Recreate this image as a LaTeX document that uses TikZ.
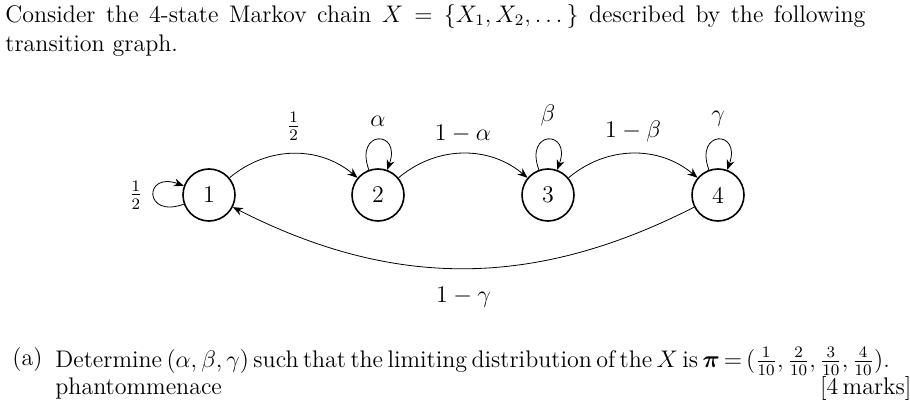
\documentclass[tikz,border=0pt]{standalone}
\usepackage{amsmath,amssymb,bm}
\usetikzlibrary{arrows.meta}
\begin{document}
\begin{tikzpicture}[x=0.5pt,y=-0.5pt,font=\fontsize{12}{14.5}\selectfont,
  st/.style={circle,draw,thick,minimum size=26pt,inner sep=0pt},
  arr/.style={->,>={Stealth[length=5pt,width=4pt]},thin}]
\useasboundingbox (0,0) rectangle (910,417);
\node[anchor=north west,text width=430pt,align=justify,inner sep=0pt] (txt) at (5,4)
 {Consider the 4-state Markov chain $X=\{X_1,X_2,\dots\}$ described by the following transition graph.};
\node[st] (s1) at (209,195) {1};
\node[st] (s2) at (378,195) {2};
\node[st] (s3) at (548,195) {3};
\node[st] (s4) at (718,195) {4};
\draw[arr] (s1) to[bend left=40] node[above=3pt,pos=0.5] {$\frac12$} (s2);
\draw[arr] (s2) to[bend left=40] node[above=2pt] {$1-\alpha$} (s3);
\draw[arr] (s3) to[bend left=40] node[above=2pt] {$1-\beta$} (s4);
\draw[arr] (s4) to[bend left=27] node[below=6pt] {$1-\gamma$} (s1);
\draw[arr] (s2) to[out=110,in=70,looseness=6] node[above=3pt] {$\alpha$} (s2);
\draw[arr] (s3) to[out=110,in=70,looseness=6] node[above=3pt] {$\beta$} (s3);
\draw[arr] (s4) to[out=110,in=70,looseness=6] node[above=3pt] {$\gamma$} (s4);
\draw[arr] (s1) to[out=200,in=160,looseness=6] node[left=2pt] {$\frac12$} (s1);
\node[anchor=north west,inner sep=0pt] (qlab) at (12,347) {(a)};
\node[anchor=north west,text width=428pt,inner sep=0pt] (qa) at (55,347)
 {\spaceskip=2.2pt plus 0.5pt minus 0.5pt\medmuskip=2mu\thickmuskip=3mu
 \makebox[428pt][l]{Determine $(\alpha,\beta,\gamma)$ such that the limiting distribution of the $X$ is $\bm{\pi}=(\frac1{10},\frac2{10},\frac3{10},\frac4{10})$.}\\[-1pt]
 phantommenace \hfill [4 marks]\hspace*{36pt}};
\end{tikzpicture}
\end{document}
